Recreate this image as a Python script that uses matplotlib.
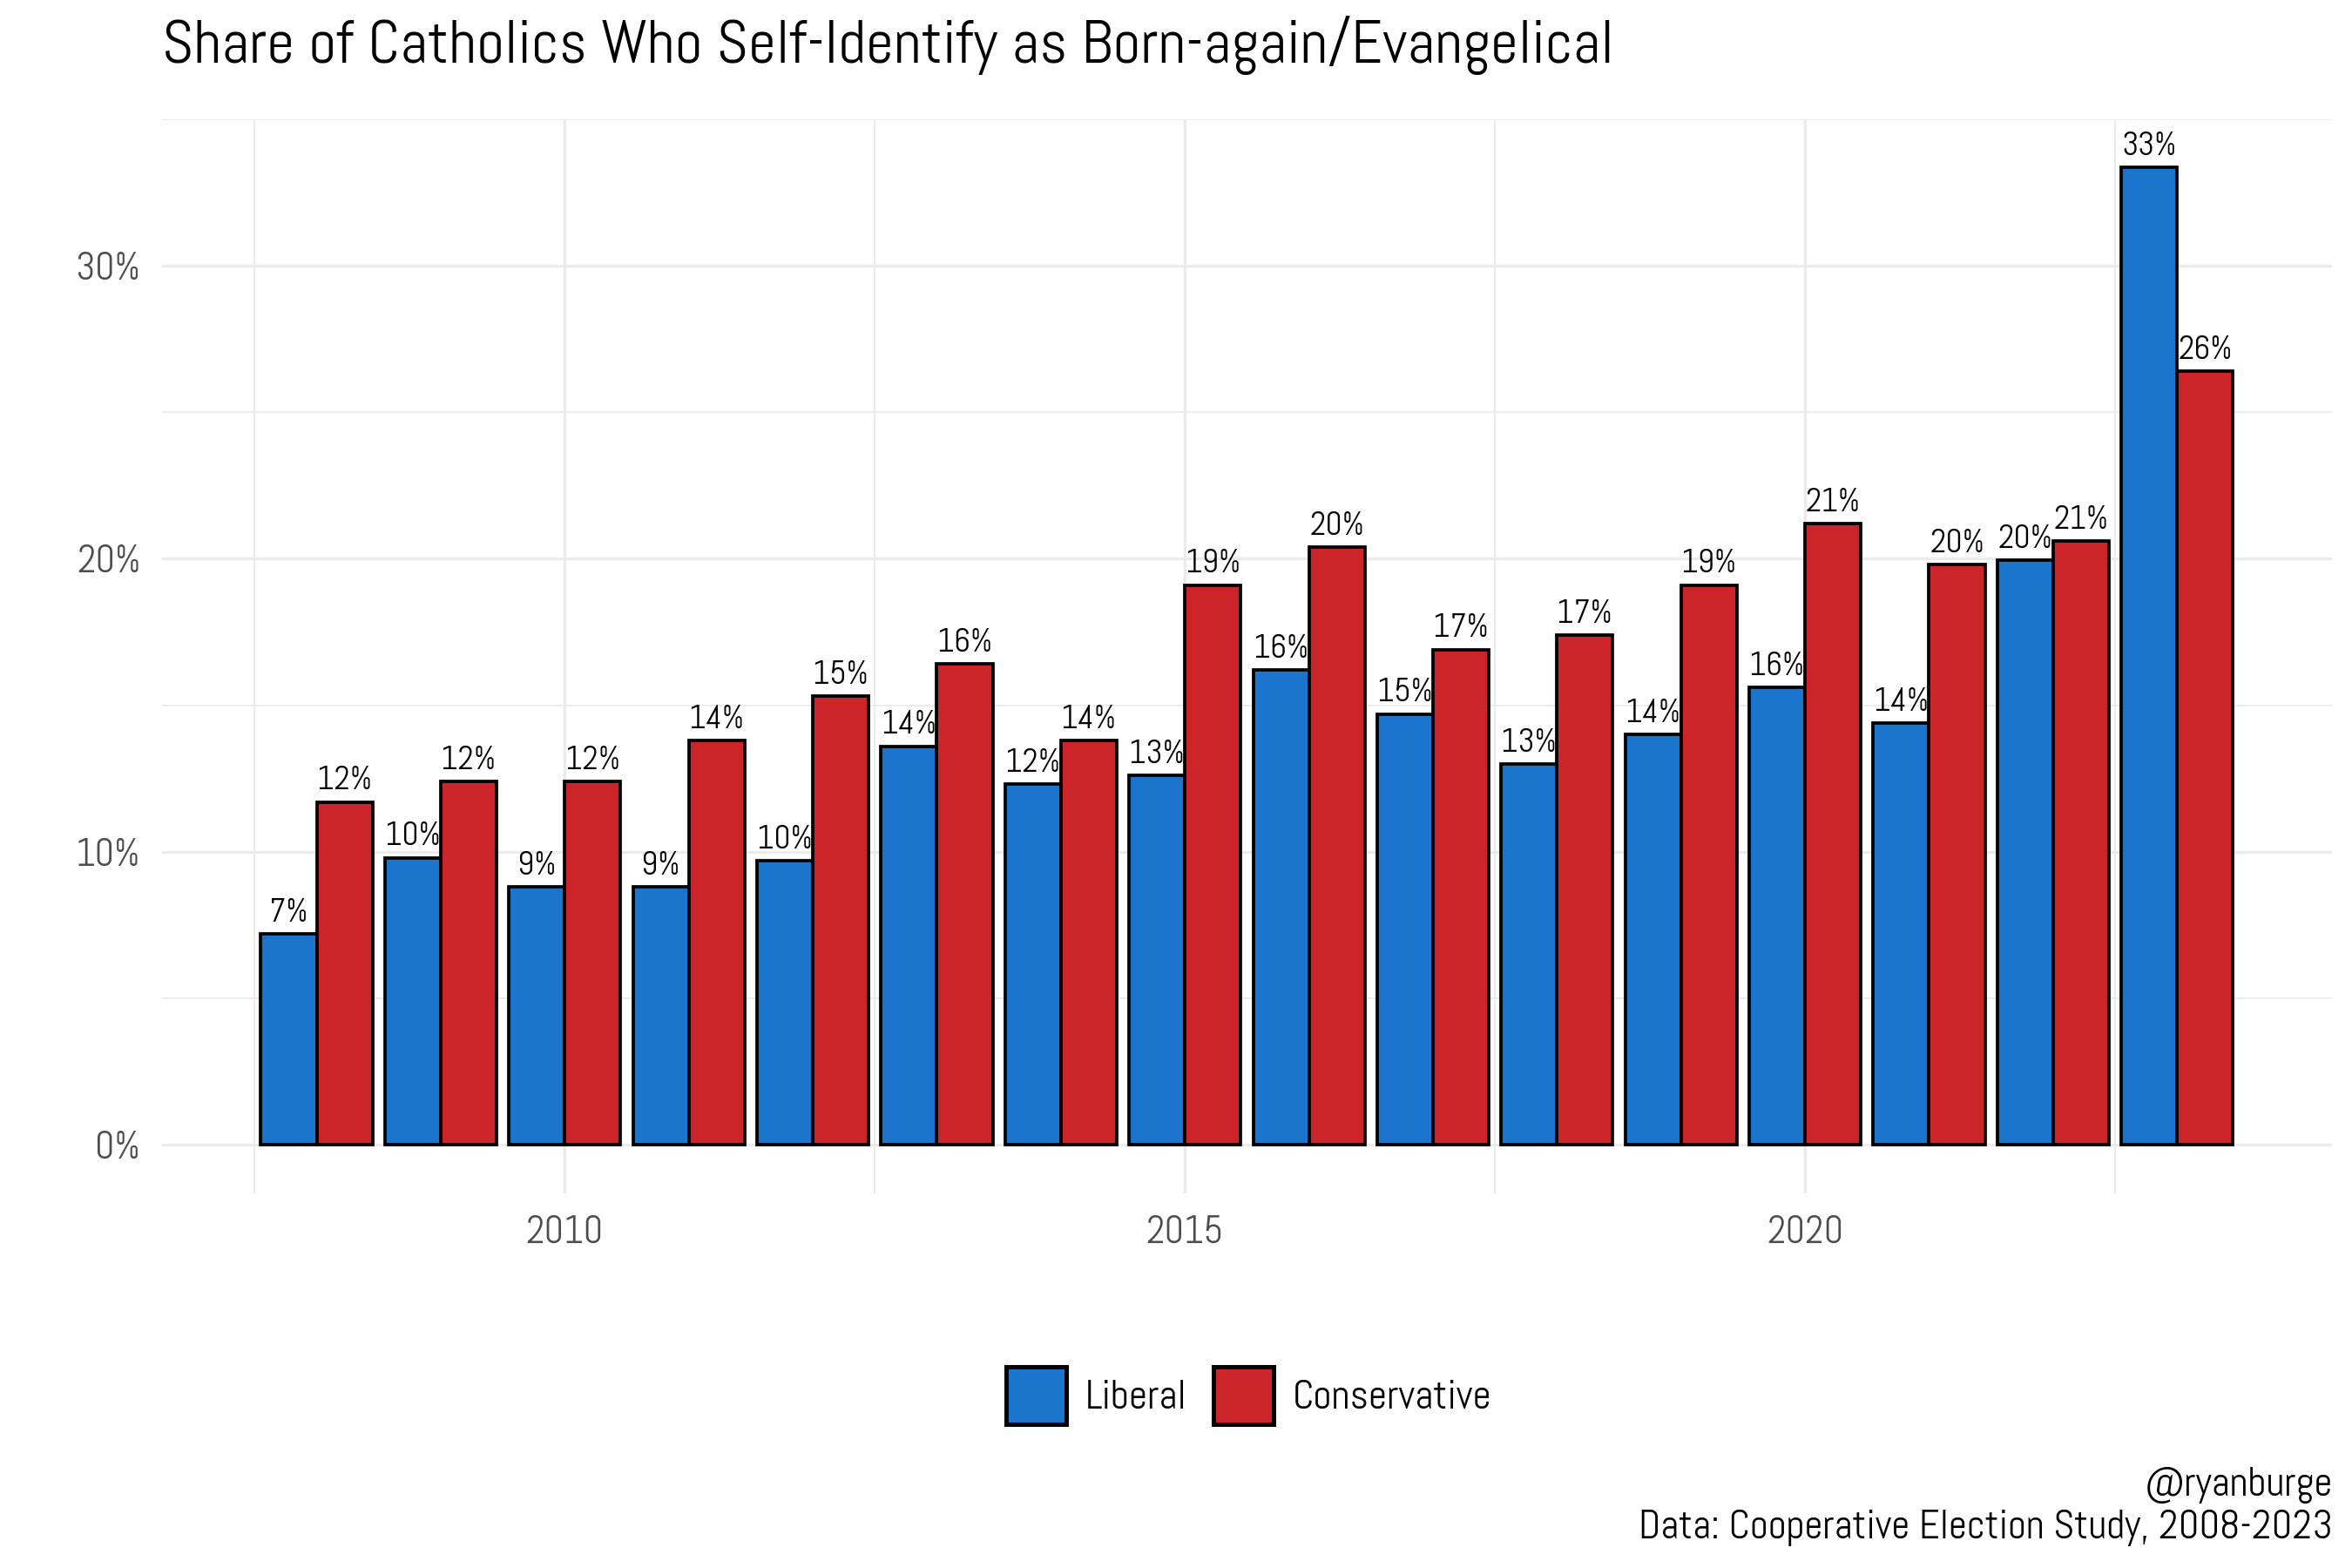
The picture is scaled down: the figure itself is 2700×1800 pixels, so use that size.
import matplotlib
matplotlib.use("Agg")
import matplotlib.pyplot as plt
from matplotlib.patches import Patch
from matplotlib.ticker import MultipleLocator, FuncFormatter
import numpy as np

years = list(range(2008, 2024))
liberal = [7.2, 9.8, 8.8, 8.8, 9.7, 13.6, 12.3, 12.6, 16.2, 14.7, 13.0, 14.0, 15.6, 14.4, 19.95, 33.35]
conservative = [11.7, 12.4, 12.4, 13.8, 15.3, 16.4, 13.8, 19.1, 20.4, 16.9, 17.4, 19.1, 21.2, 19.8, 20.6, 26.4]
groups = ["Liberal", "Conservative"]
colors = ["#1b75cd", "#cc2529"]

plt.rcParams['font.family'] = ['Abel', 'DejaVu Sans']

fig = plt.figure(figsize=(9, 6), dpi=300)
ax = fig.add_axes([0.069, 0.2387, 0.9223, 0.6853])

x = np.array(years)
w = 0.45
for vals, off, col in [(liberal, -w / 2, colors[0]), (conservative, w / 2, colors[1])]:
    bars = ax.bar(x + off, vals, width=w, color=col, edgecolor="black", linewidth=0.9, zorder=3)
    for b, v in zip(bars, vals):
        ax.annotate(f"{round(v):.0f}%", (b.get_x() + b.get_width() / 2, v),
                    xytext=(0, 1.5), textcoords="offset points",
                    ha="center", va="bottom", fontsize=9, color="black", zorder=4)

ax.set_xlim(2006.755, 2024.245)
ax.set_ylim(-1.67, 35.0)
ax.xaxis.set_major_locator(MultipleLocator(5))
ax.xaxis.set_minor_locator(MultipleLocator(2.5))
ax.yaxis.set_major_locator(MultipleLocator(10))
ax.yaxis.set_minor_locator(MultipleLocator(5))
ax.yaxis.set_major_formatter(FuncFormatter(lambda v, p: f"{v:.0f}%"))
ax.grid(which="major", color="#ebebeb", linewidth=0.8, zorder=0)
ax.grid(which="minor", color="#ebebeb", linewidth=0.45, zorder=0)
ax.tick_params(which="both", length=0, labelsize=10.5, labelcolor="#4d4d4d", pad=6)
for s in ax.spines.values():
    s.set_visible(False)

fig.text(0.069, 0.96, "Share of Catholics Who Self-Identify as Born-again/Evangelical",
         fontsize=16.8, ha="left", va="baseline")

handles = [Patch(facecolor=c, edgecolor="black", linewidth=1.2, label=g) for c, g in zip(colors, groups)]
fig.legend(handles=handles, loc="center", bbox_to_anchor=(0.531, 0.11), ncol=2,
           frameon=False, fontsize=11.2, handlelength=1.48, handleheight=1.8,
           columnspacing=0.67, handletextpad=0.45)

fig.text(0.992, 0.019, "@ryanburge\nData: Cooperative Election Study, 2008-2023",
         fontsize=11.1, ha="right", va="baseline", linespacing=1.2)

fig.savefig("out.png", dpi=300, facecolor="white")
